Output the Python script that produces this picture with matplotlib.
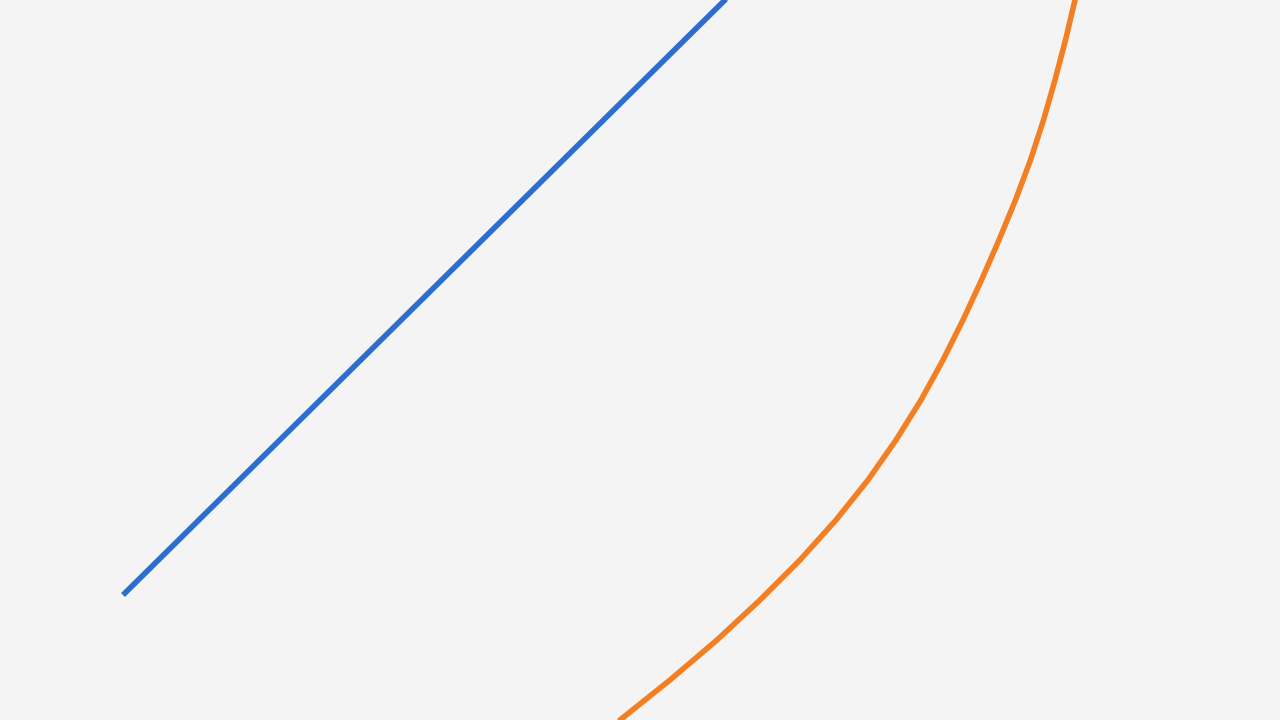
import matplotlib
matplotlib.use("Agg")
import matplotlib.pyplot as plt

blue_x = [123, 728]
blue_y = [125, 723]

orange_x = [610, 620, 670, 717, 760, 800, 836, 868, 896, 921, 943,
            963, 981.5, 999, 1015.5, 1030.5, 1043.5, 1055, 1065.5, 1075, 1077]
orange_y = [-8, 0, 40, 80, 120, 160, 200, 240, 280, 320, 360,
            400, 440, 480, 520, 560, 600, 640, 680, 720, 728]

bg = "#f4f4f4"

fig = plt.figure(figsize=(12.8, 7.2), dpi=100, facecolor=bg)
ax = fig.add_axes([0, 0, 1, 1])
ax.set_facecolor(bg)

ax.plot(blue_x, blue_y, color="#2c6ecf", lw=4.0, solid_capstyle="butt")
ax.plot(orange_x, orange_y, color="#f47f22", lw=4.0, solid_capstyle="butt",
        solid_joinstyle="round")

ax.set_xlim(0, 1280)
ax.set_ylim(0, 720)
ax.axis("off")

fig.savefig("out.png", dpi=100, facecolor=bg)
